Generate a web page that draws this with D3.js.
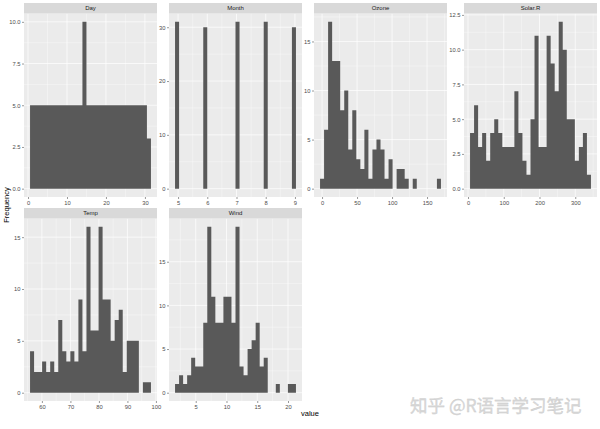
<!DOCTYPE html>
<html lang="en">
<head>
<meta charset="UTF-8">
<title>airquality histograms</title>
<script src="https://cdn.jsdelivr.net/npm/d3@7"></script>
<style>
  body { margin: 0; background: #fff; }
  text { font-family: "Liberation Sans", Arial, sans-serif; }
</style>
</head>
<body>
<svg width="600" height="429"></svg>
<script>

    // facet names (airquality, long format, 30 bins each)
    var facetNames = ["Day", "Month", "Ozone", "Solar.R", "Temp", "Wind"];

    // first bin centre and bin width for each facet
    var binStart = [1.0345, 4.9655, 0, 11.276, 56.552, 1.9655];
    var binWidth = [1.0345, 0.13793, 5.7586, 11.276, 1.4138, 0.65517];

    // counts
    var dayCounts   = [5,5,5,5,5,5,5,5,5,5,5,5,5,10,5,5,5,5,5,5,5,5,5,5,5,5,5,5,5,3];
    var monthCounts = [31,0,0,0,0,0,0,30,0,0,0,0,0,0,0,31,0,0,0,0,0,0,31,0,0,0,0,0,0,30];
    var ozoneCounts = [1,6,17,13,13,8,10,4,8,3,2,6,1,4,5,4,1,3,0,2,2,1,0,1,0,0,0,0,0,1];
    var solarCounts = [4,6,3,4,2,4,5,4,3,3,3,7,4,2,1,5,11,3,3,11,9,7,12,10,5,5,2,3,4,1];
    var tempCounts  = [4,2,2,3,2,3,2,7,4,3,4,3,9,4,16,6,6,16,9,9,5,7,8,2,5,5,5,0,1,1];
    var windCounts  = [1,2,1,2,4,3,3,8,19,11,8,8,11,11,8,19,3,2,5,6,8,3,4,0,0,1,0,0,1,1];
    var allCounts = [dayCounts, monthCounts, ozoneCounts, solarCounts, tempCounts, windCounts];

    // tick values
    var xTicks = [[0,10,20,30], [5,6,7,8,9], [0,50,100,150], [0,100,200,300], [60,70,80,90,100], [5,10,15,20]];
    var yTicks = [[0,2.5,5,7.5,10], [0,10,20,30], [0,5,10,15], [0,2.5,5,7.5,10,12.5], [0,5,10,15], [0,5,10,15]];
    var yFormat = [".1f", "d", "d", ".1f", "d", "d"];

    var svg = d3.select("svg");

    // layout of the 4x2 facet grid
    var colLeft = [24, 169, 314, 464],
        panelW = 133,
        stripTop = [3, 208],
        stripH = 10.5,
        panelBottom = [197, 401];

    facetNames.forEach(function(name, i) {
        var row = Math.floor(i / 4), col = i % 4;
        var x0 = colLeft[col], x1 = x0 + panelW;
        var yTop = stripTop[row] + stripH, yBot = panelBottom[row];
        var counts = allCounts[i];

        var bins = counts.map(function(c, k) {
            var mid = binStart[i] + k * binWidth[i];
            return {x0: mid - binWidth[i] / 2, x1: mid + binWidth[i] / 2, n: c};
        });

        var lo = bins[0].x0, hi = bins[bins.length - 1].x1, pad = (hi - lo) * 0.05;
        var x = d3.scaleLinear().domain([lo - pad, hi + pad]).range([x0, x1]);
        var ymax = d3.max(counts);
        var y = d3.scaleLinear().domain([-0.05 * ymax, ymax * 1.05]).range([yBot, yTop]);

        var g = svg.append("g");

        // panel background
        g.append("rect").attr("x", x0).attr("y", yTop)
            .attr("width", panelW).attr("height", yBot - yTop).attr("fill", "#EBEBEB");

        // minor grid
        var xt = xTicks[i], yt = yTicks[i];
        var xMinor = [], yMinor = [];
        var xs = xt[1] - xt[0], ys = yt[1] - yt[0];
        for (var v = xt[0] - xs / 2; v <= xt[xt.length - 1] + xs; v += xs) xMinor.push(v);
        for (var v = yt[0] - ys / 2; v <= yt[yt.length - 1] + ys; v += ys) yMinor.push(v);
        var xd = x.domain(), yd = y.domain();
        xMinor = xMinor.filter(function(v) { return v > xd[0] && v < xd[1]; });
        yMinor = yMinor.filter(function(v) { return v > yd[0] && v < yd[1]; });

        g.selectAll(".vminor").data(xMinor).enter().append("line")
            .attr("x1", x).attr("x2", x).attr("y1", yTop).attr("y2", yBot)
            .attr("stroke", "#fff").attr("stroke-width", 0.35);
        g.selectAll(".hminor").data(yMinor).enter().append("line")
            .attr("y1", y).attr("y2", y).attr("x1", x0).attr("x2", x1)
            .attr("stroke", "#fff").attr("stroke-width", 0.35);

        // major grid
        g.selectAll(".vmajor").data(xt).enter().append("line")
            .attr("x1", x).attr("x2", x).attr("y1", yTop).attr("y2", yBot)
            .attr("stroke", "#fff").attr("stroke-width", 0.7);
        g.selectAll(".hmajor").data(yt).enter().append("line")
            .attr("y1", y).attr("y2", y).attr("x1", x0).attr("x2", x1)
            .attr("stroke", "#fff").attr("stroke-width", 0.7);

        // bars, as one stepped outline so neighbours don't leave seams
        var pts = [[bins[0].x0, 0]];
        bins.forEach(function(b) { pts.push([b.x0, b.n], [b.x1, b.n]); });
        pts.push([bins[bins.length - 1].x1, 0]);
        g.append("path")
            .attr("d", d3.line().x(function(p) { return x(p[0]); }).y(function(p) { return y(p[1]); })(pts) + "Z")
            .attr("fill", "#595959");

        // strip
        g.append("rect").attr("x", x0).attr("y", stripTop[row])
            .attr("width", panelW).attr("height", stripH).attr("fill", "#D9D9D9");
        g.append("text").attr("x", (x0 + x1) / 2).attr("y", stripTop[row] + stripH / 2 + 2)
            .attr("text-anchor", "middle").attr("font-size", 6).attr("fill", "#1A1A1A")
            .text(name);

        // axes
        var xAxis = d3.axisBottom(x).tickValues(xt).tickSize(2).tickPadding(1.5).tickFormat(d3.format("d"));
        var ax = g.append("g").attr("transform", "translate(0," + yBot + ")").call(xAxis);
        var yAxis = d3.axisLeft(y).tickValues(yt).tickSize(2).tickPadding(1.5).tickFormat(d3.format(yFormat[i]));
        var ay = g.append("g").attr("transform", "translate(" + x0 + ",0)").call(yAxis);
        [ax, ay].forEach(function(a) {
            a.select(".domain").remove();
            a.selectAll(".tick line").attr("stroke", "#333").attr("stroke-width", 0.5);
            a.selectAll(".tick text").attr("fill", "#4D4D4D").attr("font-size", 5.8)
                .attr("font-family", "Liberation Sans, Arial, sans-serif");
        });
    });

    // axis titles
    svg.append("text").attr("x", 310).attr("y", 416).attr("text-anchor", "middle")
        .attr("font-size", 7.5).attr("fill", "#000").text("value");
    svg.append("text").attr("transform", "translate(9,205) rotate(-90)").attr("text-anchor", "middle")
        .attr("font-size", 7.5).attr("fill", "#000").text("Frequency");

    // watermark
    svg.append("text").attr("x", 410).attr("y", 412)
        .style("font-family", "'Noto Sans CJK SC', sans-serif")
        .attr("font-size", 17.5).attr("fill", "#d9d9d9")
        .attr("stroke", "#c8c8c8").attr("stroke-width", 0.3)
        .text("知乎 @R语言学习笔记");

</script>
</body>
</html>
